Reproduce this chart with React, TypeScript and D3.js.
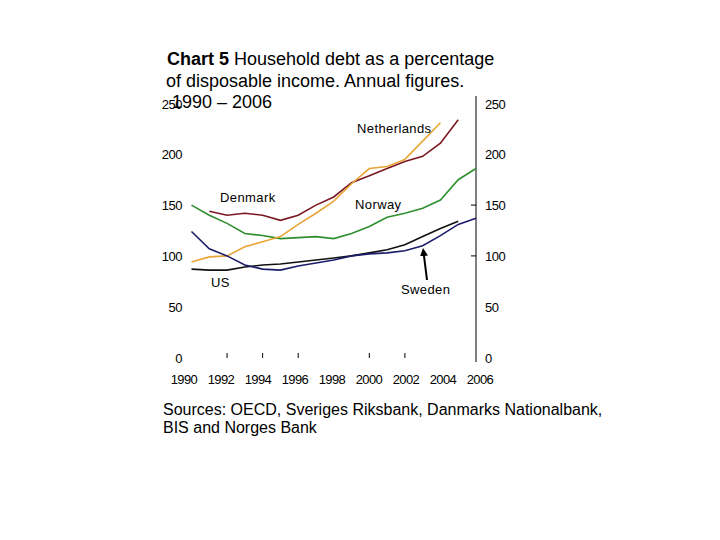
import React from "react";
import * as d3 from "d3";

const years = d3.range(1990, 2007);
const norway = [150, 140, 132, 122, 120, 117, 118, 119, 117, 122, 129, 138, 142, 147, 155, 175, 186];
const denmark = [null, 144, 140, 142, 140, 135, 140, 150, 158, 172, 179, 186, 193, 198, 211, 234, null];
const netherlands = [94, 99, 100, 109, 114, 119, 131, 142, 154, 171, 186, 188, 195, 213, 231, null, null];
const us = [87, 86, 86, 89, 91, 92, 94, 96, 98, 100, 103, 106, 111, 119, 127, 134, null];
const sweden = [124, 107, 100, 91, 87, 86, 90, 93, 96, 100, 102, 103, 105, 110, 120, 131, 137];

const yTicks = [0, 50, 100, 150, 200, 250];
const xLabels = ["1990", "1992", "1994", "1996", "1998", "2000", "2002", "2004", "2006"];
const xTickYears = [1992, 1994, 1996, 2000, 2002];
const rightTickVals = [100, 150];

const series = [
  { name: "Norway", values: norway, color: "#2f8f2f" },
  { name: "Denmark", values: denmark, color: "#7a1822" },
  { name: "Netherlands", values: netherlands, color: "#e8a535" },
  { name: "US", values: us, color: "#111111" },
  { name: "Sweden", values: sweden, color: "#1c1c6a" },
];

const labels = [
  { text: "Netherlands", x: 357, y: 133 },
  { text: "Denmark", x: 220, y: 202 },
  { text: "Norway", x: 355, y: 209 },
  { text: "US", x: 211, y: 287 },
  { text: "Sweden", x: 401, y: 294 },
];

const FONT = "'Liberation Sans', Arial, sans-serif";

export default function App() {
  const x = d3.scaleLinear().domain([1990, 2006]).range([191.5, 476]);
  const y = d3.scaleLinear().domain([0, 250]).range([357.5, 103.5]);
  const xLab = d3.scalePoint<string>().domain(xLabels).range([184, 480]);

  const line = d3
    .line<number | null>()
    .defined((d) => d != null)
    .x((_, i) => x(years[i]))
    .y((d) => y(d as number));

  return (
    <svg
      width={720}
      height={540}
      style={{ position: "absolute", left: 0, top: 0, background: "#fff" }}
      fontFamily={FONT}
    >
      <defs>
        <marker id="arr" viewBox="0 0 10 10" refX="5" refY="5" markerWidth="4" markerHeight="5" orient="auto">
          <path d="M0,0 L10,5 L0,10 z" fill="#000" />
        </marker>
      </defs>
      {/* Title */}
      <text x={167} y={65} fontSize={18} fill="#000">
        <tspan fontWeight="bold">Chart 5</tspan> Household debt as a percentage
      </text>
      <text x={166} y={87} fontSize={18} fill="#000">
        of disposable income. Annual figures.
      </text>
      <text x={172} y={108} fontSize={18} fill="#000">
        1990 – 2006
      </text>

      {/* Left axis labels */}
      {yTicks.map((t) => (
        <text key={"l" + t} x={182} y={y(t) + 5} fontSize={13} textAnchor="end" letterSpacing={-0.5} fill="#000">
          {t}
        </text>
      ))}
      {/* Right axis */}
      <line x1={476} x2={476} y1={96} y2={362} stroke="#000" strokeWidth={1} />
      {rightTickVals.map((t) => (
        <line key={"rt" + t} x1={471} x2={476} y1={y(t)} y2={y(t)} stroke="#000" strokeWidth={1} />
      ))}
      {yTicks.map((t) => (
        <text key={"r" + t} x={485} y={y(t) + 5} fontSize={13} textAnchor="start" letterSpacing={-0.5} fill="#000">
          {t}
        </text>
      ))}
      {/* X ticks */}
      {xTickYears.map((yr) => (
        <line key={"xt" + yr} x1={x(yr)} x2={x(yr)} y1={353} y2={358} stroke="#000" strokeWidth={1} />
      ))}
      {xLabels.map((l) => (
        <text key={"xl" + l} x={xLab(l)} y={384} fontSize={13} textAnchor="middle" letterSpacing={-0.6} fill="#000">
          {l}
        </text>
      ))}

      {/* Lines */}
      {series.map((s) => (
        <path key={s.name} d={line(s.values) || ""} fill="none" stroke={s.color} strokeWidth={1.6} />
      ))}

      {/* Series labels */}
      {labels.map((l) => (
        <text key={l.text} x={l.x} y={l.y} fontSize={13} letterSpacing={0.4} fill="#000">
          {l.text}
        </text>
      ))}
      {/* Arrow to Sweden */}
      <line x1={427} y1={280} x2={423.5} y2={252} stroke="#000" strokeWidth={2} markerEnd="url(#arr)" />

      {/* Sources */}
      <text x={163} y={415} fontSize={16} fill="#000">
        Sources: OECD, Sveriges Riksbank, Danmarks Nationalbank,
      </text>
      <text x={163} y={433} fontSize={16} fill="#000">
        BIS and Norges Bank
      </text>
    </svg>
  );
}
